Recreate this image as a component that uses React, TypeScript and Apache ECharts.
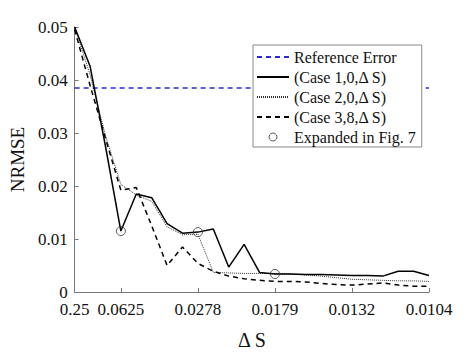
import React, { useEffect, useRef } from "react";
import * as echarts from "echarts";

// x values: 1/ΔS (ΔS = 1/n)
const invDeltaS = [4, 8, 12, 16, 20, 24, 28, 32, 36, 40, 44, 48, 52, 56, 60, 64, 68, 72, 76, 80, 84, 88, 92, 96];
const case1 = [0.05, 0.0426, 0.0275, 0.0115, 0.0185, 0.0178, 0.0129, 0.0111, 0.0113, 0.0119, 0.0047, 0.009, 0.0037, 0.0034, 0.0034, 0.0033, 0.0033, 0.0032, 0.0031, 0.0031, 0.003, 0.0039, 0.0039, 0.0031];
const case2 = [0.05, 0.041, 0.0295, 0.0203, 0.0183, 0.0171, 0.0123, 0.0108, 0.0109, 0.0037, 0.0036, 0.0035, 0.0035, 0.0035, 0.0034, 0.0032, 0.003, 0.0027, 0.0024, 0.0023, 0.0022, 0.0021, 0.0021, 0.002];
const case3 = [0.0495, 0.039, 0.029, 0.0192, 0.0197, 0.0125, 0.005, 0.0085, 0.0054, 0.0039, 0.003, 0.0025, 0.0022, 0.002, 0.002, 0.0019, 0.0016, 0.0014, 0.0013, 0.0015, 0.0017, 0.0013, 0.0011, 0.0011];
const referenceError = 0.0385;
const expandedX = [16, 36, 56];
const expandedY = [0.0115, 0.0113, 0.0034];
const xTickValues = [4, 16, 36, 56, 76, 96];
const xTickLabels = ["0.25", "0.0625", "0.0278", "0.0179", "0.0132", "0.0104"];

const FONT = "Liberation Serif";

export default function App() {
  const ref = useRef<HTMLDivElement>(null);
  useEffect(() => {
    if (!ref.current) return;
    const chart = echarts.init(ref.current, undefined, { renderer: "svg" });
    const pair = (ys: number[]) => invDeltaS.map((x, i) => [x, ys[i]]);
    const axisColor = "#777";
    const hiddenSymbol = { opacity: 0, borderWidth: 0 };
    chart.setOption({
      animation: false,
      backgroundColor: "#fff",
      textStyle: { fontFamily: FONT },
      grid: { left: 64, top: 27, width: 365, height: 276, containLabel: false },
      legend: {
        orient: "vertical",
        left: 253,
        top: 45,
        backgroundColor: "#fff",
        borderColor: "#888",
        borderWidth: 1,
        borderRadius: 0,
        padding: [4, 6, 2, 3],
        itemGap: 4,
        itemWidth: 32,
        itemHeight: 8,
        textStyle: { fontFamily: FONT, fontSize: 16, color: "#111" },
        data: [
          { name: "Reference Error", itemStyle: hiddenSymbol },
          { name: "(Case 1,0,Δ S)", itemStyle: hiddenSymbol },
          { name: "(Case 2,0,Δ S)", itemStyle: hiddenSymbol },
          { name: "(Case 3,8,Δ S)", itemStyle: hiddenSymbol },
          {
            name: "Expanded in Fig. 7",
            icon: "circle",
            itemStyle: { color: "transparent", borderColor: "#333", borderWidth: 1 },
          },
        ],
      },
      xAxis: {
        type: "value",
        min: 4,
        max: 96,
        name: "Δ S",
        nameLocation: "middle",
        nameGap: 38,
        nameTextStyle: { fontFamily: FONT, fontSize: 20, color: "#111" },
        splitLine: { show: false },
        axisLine: { show: true, lineStyle: { color: axisColor, width: 1 } },
        axisTick: { show: true, inside: true, length: 4, customValues: xTickValues, lineStyle: { color: axisColor } },
        axisLabel: {
          customValues: xTickValues,
          margin: 9,
          fontFamily: FONT,
          fontSize: 17,
          color: "#111",
          formatter: (v: number) => {
            const i = xTickValues.indexOf(Math.round(v));
            return i >= 0 ? xTickLabels[i] : "";
          },
        },
      },
      yAxis: {
        type: "value",
        min: 0,
        max: 0.05,
        interval: 0.01,
        name: "NRMSE",
        nameLocation: "middle",
        nameGap: 47,
        nameTextStyle: { fontFamily: FONT, fontSize: 19, color: "#111" },
        splitLine: { show: false },
        axisLine: { show: true, lineStyle: { color: axisColor, width: 1 } },
        axisTick: { show: true, inside: true, length: 4, lineStyle: { color: axisColor } },
        axisLabel: {
          margin: 7,
          fontFamily: FONT,
          fontSize: 17,
          color: "#111",
          formatter: (v: number) => (v === 0 ? "0" : v.toFixed(2)),
        },
      },
      series: [
        {
          name: "Reference Error",
          type: "line",
          symbol: "none",
          data: [[invDeltaS[0], referenceError], [invDeltaS[invDeltaS.length - 1], referenceError]],
          lineStyle: { color: "#2a2ad8", width: 1.5, type: [5, 4] },
          itemStyle: { color: "#2a2ad8" },
          z: 1,
        },
        {
          name: "(Case 1,0,Δ S)",
          type: "line",
          symbol: "none",
          data: pair(case1),
          lineStyle: { color: "#000", width: 1.5, type: "solid" },
          itemStyle: { color: "#000" },
          z: 3,
        },
        {
          name: "(Case 2,0,Δ S)",
          type: "line",
          symbol: "none",
          data: pair(case2),
          lineStyle: { color: "#333", width: 1, type: [1, 1] },
          itemStyle: { color: "#333" },
          z: 2,
        },
        {
          name: "(Case 3,8,Δ S)",
          type: "line",
          symbol: "none",
          data: pair(case3),
          lineStyle: { color: "#000", width: 1.5, type: [5, 4] },
          itemStyle: { color: "#000" },
          z: 2,
        },
        {
          name: "Expanded in Fig. 7",
          type: "scatter",
          symbol: "circle",
          symbolSize: 9,
          data: expandedX.map((x, i) => [x, expandedY[i]]),
          itemStyle: { color: "transparent", borderColor: "#333", borderWidth: 1 },
          z: 4,
        },
      ],
    });
    return () => chart.dispose();
  }, []);
  return <div ref={ref} style={{ position: "fixed", left: 0, top: 0, width: 474, height: 355 }} />;
}
